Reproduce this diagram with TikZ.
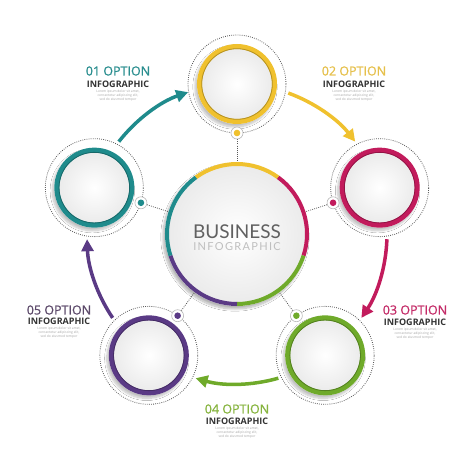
\documentclass[tikz,border=0pt]{standalone}
\usepackage{fontspec}
\setmainfont{Open Sans}
\newfontfamily\latofont{Lato}
\usetikzlibrary{arrows.meta,shadows.blur}
\definecolor{cteal}{HTML}{1F8B8C}
\definecolor{cyel}{HTML}{F0C12E}
\definecolor{cmag}{HTML}{C21B5C}
\definecolor{cgrn}{HTML}{6FAA2A}
\definecolor{cpur}{HTML}{5A3A85}
\definecolor{tgray}{HTML}{333333}
\definecolor{lteal}{HTML}{2A8E8F}
\definecolor{lyel}{HTML}{E6C04A}
\definecolor{lmag}{HTML}{C42C68}
\definecolor{lgrn}{HTML}{86B43E}
\definecolor{lpur}{HTML}{5D4A6B}
\tikzset{
  dotring/.style={draw=gray!70!black, line width=0.8pt, dash pattern=on 0.8pt off 1.3pt},
  dotline/.style={draw=gray!70!black, line width=0.8pt, dash pattern=on 0.8pt off 1.3pt},
  hdr/.style={inner sep=0pt, font=\addfontfeature{FakeBold=0.8}\fontsize{12.5}{12.5}\selectfont},
  subhdr/.style={inner sep=0pt, text=tgray, font=\bfseries\fontsize{9}{9}\selectfont},
  lorem/.style={inner sep=0pt, align=center, text=gray!70, font=\fontsize{3.3}{4.1}\selectfont},
  smalldot/.style={circle, fill=white, draw=gray!55, line width=0.6pt, minimum size=12pt, inner sep=0pt},
  arrowline/.style={line width=3.5pt, -{Triangle[length=12pt,width=12pt]}}
}
\begin{document}
\begin{tikzpicture}[x=1pt,y=1pt]
\useasboundingbox (0,0) rectangle (474,474);
\fill[white] (0,0) rectangle (474,474);
\coordinate (C) at (237,240);

% central circle node (for anchors)
\node[circle, minimum size=144pt, inner sep=0pt, outer sep=0pt] (cc) at (C) {};

% outer circle centres
\foreach \ang/\name in {90/o2, 18/o3, -54/o4, -126/o5, 162/o1}{
  \path (C) ++(\ang:150) coordinate (\name);
  \path (\name) ++({\ang+180}:49) coordinate (\name-p);
}

% dotted connectors
\foreach \ang/\name in {90/o2, 18/o3, -54/o4, -126/o5, 162/o1}{
  \draw[dotline] (\name-p) -- (cc.\ang);
}

% arrows
\foreach \s/\e/\col in {142/109/cteal, 70/38/cyel, -2/-34/cmag, -74/-106/cgrn, -146/-178/cpur}{
  \draw[\col, arrowline] ([shift={(\s:150)}]C) arc[start angle=\s, end angle=\e, radius=150];
}

% central circle
\path[blur shadow={shadow xshift=-2pt, shadow yshift=-3pt, shadow blur steps=12, shadow opacity=30}, fill=white] (C) circle[radius=72];
\shade[inner color=white, outer color=gray!16] (C) circle[radius=70];
\foreach \a/\col in {90/cyel, 18/cmag, -54/cgrn, -126/cpur, 162/cteal}{
  \draw[\col, line width=4pt] ([shift={({\a+36}:70)}]C) arc[start angle={\a+36}, end angle={\a-36}, radius=70];
}
\node[text=black!62, inner sep=0pt] (t1) at (237,242.5) {\latofont\fontsize{19}{19}\selectfont BUSINESS};
\node[text=gray!50, inner sep=0pt] (t2) at (237,227.5) {\latofont\addfontfeature{LetterSpace=12}\fontsize{11}{11}\selectfont INFOGRAPHIC};

% outer circles
\foreach \ang/\name/\col in {90/o2/cyel, 18/o3/cmag, -54/o4/cgrn, -126/o5/cpur, 162/o1/cteal}{
  \draw[dotring] (\name) circle[radius=49];
  \path[blur shadow={shadow xshift=-2pt, shadow yshift=-3pt, shadow blur steps=10, shadow opacity=25}, fill=white] (\name) circle[radius=40];
  \shade[inner color=white, outer color=gray!16] (\name) circle[radius=36];
  \draw[\col, line width=5pt] (\name) circle[radius=37.5];
  \draw[\col!75!black, line width=0.8pt] (\name) circle[radius=35.3];
  \node[smalldot] (\name-s) at (\name-p) {};
  \fill[\col] (\name-s) circle[radius=3.3];
}

% labels
\node[hdr, text=lteal] (h1) at (118,403) {01 OPTION};
\node[subhdr] (s1) at (118,390) {INFOGRAPHIC};
\node[lorem] (l1) at (118,378.5) {Lorem ipsum dolor sit amet,\\consectetur adipiscing elit,\\sed do eiusmod tempor};

\node[hdr, text=lyel] (h2) at (354,403) {02 OPTION};
\node[subhdr] (s2) at (354,390) {INFOGRAPHIC};
\node[lorem] (l2) at (354,378.5) {Lorem ipsum dolor sit amet,\\consectetur adipiscing elit,\\sed do eiusmod tempor};

\node[hdr, text=lmag] (h3) at (415,164) {03 OPTION};
\node[subhdr] (s3) at (415,152) {INFOGRAPHIC};
\node[lorem] (l3) at (415,140.5) {Lorem ipsum dolor sit amet,\\consectetur adipiscing elit,\\sed do eiusmod tempor};

\node[hdr, text=lgrn] (h4) at (237,65) {04 OPTION};
\node[subhdr] (s4) at (237,53) {INFOGRAPHIC};
\node[lorem] (l4) at (237,41.5) {Lorem ipsum dolor sit amet,\\consectetur adipiscing elit,\\sed do eiusmod tempor};

\node[hdr, text=lpur] (h5) at (59,164) {05 OPTION};
\node[subhdr] (s5) at (59,152.5) {INFOGRAPHIC};
\node[lorem] (l5) at (59,141) {Lorem ipsum dolor sit amet,\\consectetur adipiscing elit,\\sed do eiusmod tempor};
\end{tikzpicture}
\end{document}
